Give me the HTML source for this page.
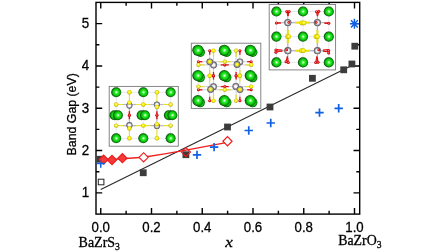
<!DOCTYPE html>
<html><head><meta charset="utf-8"><title>Band gap</title>
<style>
html,body{margin:0;padding:0;background:#fff;}
svg{display:block;}
.t{font-family:"Liberation Sans",sans-serif;font-size:14px;fill:#000;stroke:#000;stroke-width:0.28px;}
.s{font-family:"Liberation Serif",serif;font-size:15.6px;fill:#000;stroke:#000;stroke-width:0.3px;}
</style></head><body>
<svg width="448" height="252" viewBox="0 0 448 252">
<defs>
<radialGradient id="gG" cx="0.52" cy="0.5" r="0.5"><stop offset="0" stop-color="#ffffff"/><stop offset="0.14" stop-color="#b0ffb0"/><stop offset="0.32" stop-color="#2cf02c"/><stop offset="0.6" stop-color="#12d212"/><stop offset="0.82" stop-color="#089008"/><stop offset="1" stop-color="#044a04"/></radialGradient>
<radialGradient id="gY" cx="0.5" cy="0.45" r="0.55"><stop offset="0" stop-color="#ffff8a"/><stop offset="0.6" stop-color="#f2e800"/><stop offset="1" stop-color="#a89c00"/></radialGradient>
<radialGradient id="gR" cx="0.5" cy="0.45" r="0.55"><stop offset="0" stop-color="#ffa0a0"/><stop offset="0.5" stop-color="#f01818"/><stop offset="1" stop-color="#a00000"/></radialGradient>
<radialGradient id="gZ" cx="0.5" cy="0.5" r="0.5"><stop offset="0" stop-color="#ffffff"/><stop offset="0.4" stop-color="#f2f2f6"/><stop offset="0.65" stop-color="#a2a2ac"/><stop offset="0.88" stop-color="#66666e"/><stop offset="1" stop-color="#505058"/></radialGradient>
<filter id="soft" x="0" y="0" width="448" height="252" filterUnits="userSpaceOnUse"><feGaussianBlur stdDeviation="0.35"/></filter>
</defs>
<rect width="448" height="252" fill="#fff"/>

<g stroke="#000" stroke-width="1.4" fill="none" stroke-linecap="butt">
<rect x="96.0" y="2.4" width="263.7" height="211.7"/>
<path d="M100.75,214.1v-6.2M100.75,2.4v6.2"/>
<path d="M126.12,214.1v-3.4M126.12,2.4v3.4"/>
<path d="M151.50,214.1v-6.2M151.50,2.4v6.2"/>
<path d="M176.88,214.1v-3.4M176.88,2.4v3.4"/>
<path d="M202.25,214.1v-6.2M202.25,2.4v6.2"/>
<path d="M227.62,214.1v-3.4M227.62,2.4v3.4"/>
<path d="M253.00,214.1v-6.2M253.00,2.4v6.2"/>
<path d="M278.38,214.1v-3.4M278.38,2.4v3.4"/>
<path d="M303.75,214.1v-6.2M303.75,2.4v6.2"/>
<path d="M329.12,214.1v-3.4M329.12,2.4v3.4"/>
<path d="M354.50,214.1v-6.2M354.50,2.4v6.2"/>
<path d="M96.0,192.85h6.2M359.7,192.85h-6.2"/>
<path d="M96.0,171.70h3.4M359.7,171.70h-3.4"/>
<path d="M96.0,150.55h6.2M359.7,150.55h-6.2"/>
<path d="M96.0,129.40h3.4M359.7,129.40h-3.4"/>
<path d="M96.0,108.25h6.2M359.7,108.25h-6.2"/>
<path d="M96.0,87.10h3.4M359.7,87.10h-3.4"/>
<path d="M96.0,65.95h6.2M359.7,65.95h-6.2"/>
<path d="M96.0,44.80h3.4M359.7,44.80h-3.4"/>
<path d="M96.0,23.65h6.2M359.7,23.65h-6.2"/>
</g>
<text class="t" x="100.75" y="232.0" text-anchor="middle" textLength="18.4" lengthAdjust="spacingAndGlyphs">0.0</text>
<text class="t" x="151.50" y="232.0" text-anchor="middle" textLength="18.4" lengthAdjust="spacingAndGlyphs">0.2</text>
<text class="t" x="202.25" y="232.0" text-anchor="middle" textLength="18.4" lengthAdjust="spacingAndGlyphs">0.4</text>
<text class="t" x="253.00" y="232.0" text-anchor="middle" textLength="18.4" lengthAdjust="spacingAndGlyphs">0.6</text>
<text class="t" x="303.75" y="232.0" text-anchor="middle" textLength="18.4" lengthAdjust="spacingAndGlyphs">0.8</text>
<text class="t" x="354.50" y="232.0" text-anchor="middle" textLength="18.4" lengthAdjust="spacingAndGlyphs">1.0</text>
<text class="t" x="89.1" y="197.15" text-anchor="end" textLength="7.45" lengthAdjust="spacingAndGlyphs">1</text>
<text class="t" x="89.1" y="154.85" text-anchor="end" textLength="7.45" lengthAdjust="spacingAndGlyphs">2</text>
<text class="t" x="89.1" y="112.55" text-anchor="end" textLength="7.45" lengthAdjust="spacingAndGlyphs">3</text>
<text class="t" x="89.1" y="70.25" text-anchor="end" textLength="7.45" lengthAdjust="spacingAndGlyphs">4</text>
<text class="t" x="89.1" y="27.95" text-anchor="end" textLength="7.45" lengthAdjust="spacingAndGlyphs">5</text>
<text class="t" style="font-size:13.4px" transform="translate(76.2,155.4) rotate(-90)" textLength="82.2" lengthAdjust="spacingAndGlyphs">Band Gap (eV)</text>
<text class="s" x="78.6" y="246.9" textLength="41.3" lengthAdjust="spacingAndGlyphs">BaZrS<tspan style="font-size:10.8px" dy="3.5">3</tspan></text>
<text class="s" x="338.2" y="244.5" textLength="43.3" lengthAdjust="spacingAndGlyphs">BaZrO<tspan style="font-size:10.8px" dy="3.5">3</tspan></text>
<text class="s" x="229" y="246.8" text-anchor="middle" font-style="italic" style="font-size:15.4px" textLength="7.6" lengthAdjust="spacingAndGlyphs">x</text>
<path d="M100.75,189.4L351.9,65.6" stroke="#2a2a2a" stroke-width="1.15" fill="none"/>
<path d="M103.6,160 L143.6,157.2 Q165,154 186,150.1 L227.5,142.4" stroke="#f02020" stroke-width="1.4" fill="none"/>
<rect x="96.60" y="155.85" width="6.8" height="6.8" fill="#3c3c3c"/>
<rect x="139.85" y="169.35" width="6.8" height="6.8" fill="#3c3c3c"/>
<rect x="182.50" y="151.30" width="6.8" height="6.8" fill="#3c3c3c"/>
<rect x="224.10" y="123.60" width="6.8" height="6.8" fill="#3c3c3c"/>
<rect x="266.60" y="103.60" width="6.8" height="6.8" fill="#3c3c3c"/>
<rect x="309.00" y="74.90" width="6.8" height="6.8" fill="#3c3c3c"/>
<rect x="340.30" y="66.40" width="6.8" height="6.8" fill="#3c3c3c"/>
<rect x="348.50" y="60.60" width="6.8" height="6.8" fill="#3c3c3c"/>
<rect x="351.40" y="42.80" width="6.8" height="6.8" fill="#3c3c3c"/>
<rect x="98.30" y="179.20" width="5.6" height="5.6" fill="#fff" stroke="#222" stroke-width="1"/>
<path d="M192.80,154.90h8.4M197.00,150.70v8.4" stroke="#1060e6" stroke-width="1.7" fill="none"/>
<path d="M209.90,147.10h8.4M214.10,142.90v8.4" stroke="#1060e6" stroke-width="1.7" fill="none"/>
<path d="M244.55,130.50h8.4M248.75,126.30v8.4" stroke="#1060e6" stroke-width="1.7" fill="none"/>
<path d="M266.55,123.00h8.4M270.75,118.80v8.4" stroke="#1060e6" stroke-width="1.7" fill="none"/>
<path d="M315.30,112.60h8.4M319.50,108.40v8.4" stroke="#1060e6" stroke-width="1.7" fill="none"/>
<path d="M334.50,108.30h8.4M338.70,104.10v8.4" stroke="#1060e6" stroke-width="1.7" fill="none"/>
<path d="M349.9,23.8h9M354.4,18.8v10M351.0,20.2l6.8,7.2M351.0,27.400000000000002l6.8,-7.2" stroke="#1060e6" stroke-width="1.5" fill="none"/>
<path d="M99.00,159.60L103.60,155.00L108.20,159.60L103.60,164.20Z" fill="#f23a3a" stroke="#f01818" stroke-width="1.1"/>
<path d="M107.40,160.00L112.00,155.40L116.60,160.00L112.00,164.60Z" fill="#f23a3a" stroke="#f01818" stroke-width="1.1"/>
<path d="M117.80,158.20L122.40,153.60L127.00,158.20L122.40,162.80Z" fill="#f23a3a" stroke="#f01818" stroke-width="1.1"/>
<path d="M139.00,157.30L143.60,152.70L148.20,157.30L143.60,161.90Z" fill="#fff" stroke="#f01818" stroke-width="1.1"/>
<path d="M181.3,152.1L185.9,147.5L190.5,152.1L185.9,156.7Z" fill="none" stroke="#f01818" stroke-width="1.1"/>
<path d="M222.90,141.25L227.50,136.65L232.10,141.25L227.50,145.85Z" fill="#fff" stroke="#f01818" stroke-width="1.1"/>
<path d="M96.55,163.6h8.4M100.75,163.6v4.2" stroke="#1060e6" stroke-width="1.5" fill="none"/>
<path d="M100.75,163.6v-3.8" stroke="#1060e6" stroke-width="1.5" fill="none" opacity="0.35"/>
<g filter="url(#soft)">
<rect x="109.2" y="86.4" width="69.10" height="59.80" fill="#fff" stroke="#7a7a7a" stroke-width="0.9"/>
<path d="M116.2,92.3L170.6,92.3" stroke="#e2e2ee" stroke-width="0.8"/>
<path d="M116.2,138.3L170.6,138.3" stroke="#e2e2ee" stroke-width="0.8"/>
<path d="M116.2,92.3L116.2,138.3" stroke="#e2e2ee" stroke-width="0.8"/>
<path d="M143.3,92.3L143.3,138.3" stroke="#e2e2ee" stroke-width="0.8"/>
<path d="M170.6,92.3L170.6,138.3" stroke="#e2e2ee" stroke-width="0.8"/>
<path d="M116.2,104.5L170.6,104.5" stroke="#e8e030" stroke-width="1.15"/>
<path d="M122.9,104.5L135.9,104.5" stroke="#b8b8c8" stroke-width="1.15"/>
<path d="M150.4,104.5L163.4,104.5" stroke="#b8b8c8" stroke-width="1.15"/>
<path d="M116.2,125.6L170.6,125.6" stroke="#e8e030" stroke-width="1.15"/>
<path d="M122.9,125.6L135.9,125.6" stroke="#b8b8c8" stroke-width="1.15"/>
<path d="M150.4,125.6L163.4,125.6" stroke="#b8b8c8" stroke-width="1.15"/>
<path d="M129.4,92.3L129.4,103.5" stroke="#e8e030" stroke-width="1.15"/>
<path d="M129.4,126.6L129.4,138.3" stroke="#e8e030" stroke-width="1.15"/>
<path d="M129.4,104.5L129.4,125.6" stroke="#b8b8c8" stroke-width="1.2"/>
<path d="M129.4,111.2L129.4,119.2" stroke="#e81010" stroke-width="1.4"/>
<path d="M156.9,92.3L156.9,103.5" stroke="#e8e030" stroke-width="1.15"/>
<path d="M156.9,126.6L156.9,138.3" stroke="#e8e030" stroke-width="1.15"/>
<path d="M156.9,104.5L156.9,125.6" stroke="#b8b8c8" stroke-width="1.2"/>
<path d="M156.9,111.2L156.9,119.2" stroke="#e81010" stroke-width="1.4"/>
<circle cx="129.4" cy="92.3" r="2.2" fill="url(#gY)"/>
<circle cx="129.4" cy="138.3" r="2.2" fill="url(#gY)"/>
<circle cx="129.4" cy="115.2" r="1.6" fill="url(#gR)"/>
<circle cx="156.9" cy="92.3" r="2.2" fill="url(#gY)"/>
<circle cx="156.9" cy="138.3" r="2.2" fill="url(#gY)"/>
<circle cx="156.9" cy="115.2" r="1.6" fill="url(#gR)"/>
<circle cx="116.2" cy="104.5" r="2.2" fill="url(#gY)"/>
<circle cx="143.3" cy="104.5" r="2.2" fill="url(#gY)"/>
<circle cx="170.6" cy="104.5" r="2.2" fill="url(#gY)"/>
<circle cx="116.2" cy="125.6" r="2.2" fill="url(#gY)"/>
<circle cx="143.3" cy="125.6" r="2.2" fill="url(#gY)"/>
<circle cx="170.6" cy="125.6" r="2.2" fill="url(#gY)"/>
<circle cx="129.4" cy="105.6" r="3.1" fill="url(#gZ)"/>
<circle cx="129.4" cy="102.6" r="2.2" fill="url(#gY)"/>
<circle cx="156.9" cy="104.6" r="3.1" fill="url(#gZ)"/>
<circle cx="156.9" cy="107.0" r="2.2" fill="url(#gY)"/>
<circle cx="129.4" cy="125.2" r="3.1" fill="url(#gZ)"/>
<circle cx="129.4" cy="128.4" r="2.2" fill="url(#gY)"/>
<circle cx="156.9" cy="126.0" r="3.1" fill="url(#gZ)"/>
<circle cx="156.9" cy="124.2" r="2.2" fill="url(#gY)"/>
<circle cx="116.2" cy="92.3" r="5.0" fill="url(#gG)"/>
<circle cx="143.3" cy="92.3" r="5.0" fill="url(#gG)"/>
<circle cx="170.6" cy="92.3" r="5.0" fill="url(#gG)"/>
<circle cx="116.2" cy="138.3" r="5.0" fill="url(#gG)"/>
<circle cx="143.3" cy="138.3" r="5.0" fill="url(#gG)"/>
<circle cx="170.6" cy="138.3" r="5.0" fill="url(#gG)"/>
<circle cx="114.5" cy="115.2" r="5.0" fill="url(#gG)"/>
<circle cx="117.9" cy="115.2" r="5.0" fill="url(#gG)"/>
<circle cx="141.6" cy="115.2" r="5.0" fill="url(#gG)"/>
<circle cx="145.0" cy="115.2" r="5.0" fill="url(#gG)"/>
<circle cx="168.9" cy="115.2" r="5.0" fill="url(#gG)"/>
<circle cx="172.3" cy="115.2" r="5.0" fill="url(#gG)"/>
<rect x="191.3" y="43.2" width="69.50" height="65.20" fill="#fff" stroke="#7a7a7a" stroke-width="0.9"/>
<path d="M198.4,50.6L250.8,50.6" stroke="#e2e2ee" stroke-width="0.8"/>
<path d="M198.4,75.9L250.8,75.9" stroke="#e2e2ee" stroke-width="0.8"/>
<path d="M198.4,100.9L250.8,100.9" stroke="#e2e2ee" stroke-width="0.8"/>
<path d="M198.4,50.6L198.4,100.9" stroke="#e2e2ee" stroke-width="0.8"/>
<path d="M224.8,50.6L224.8,100.9" stroke="#e2e2ee" stroke-width="0.8"/>
<path d="M250.8,50.6L250.8,100.9" stroke="#e2e2ee" stroke-width="0.8"/>
<path d="M211.6,64.9L198.4,64.9" stroke="#cfcfda" stroke-width="1.0"/>
<path d="M211.6,61.7L198.4,61.7" stroke="#cfcfda" stroke-width="1.0"/>
<path d="M198.4,64.9L204.4,64.9" stroke="#e8e030" stroke-width="1.3"/>
<path d="M198.4,61.7L202.4,61.7" stroke="#e81010" stroke-width="1.3"/>
<path d="M211.6,61.7L224.8,61.7" stroke="#cfcfda" stroke-width="1.0"/>
<path d="M211.6,64.9L224.8,64.9" stroke="#cfcfda" stroke-width="1.0"/>
<path d="M224.8,61.7L218.8,61.7" stroke="#e8e030" stroke-width="1.3"/>
<path d="M224.8,64.9L220.8,64.9" stroke="#e81010" stroke-width="1.3"/>
<path d="M213.5,63.3L213.5,50.7" stroke="#cfcfda" stroke-width="1.0"/>
<path d="M209.7,63.3L209.7,50.7" stroke="#cfcfda" stroke-width="1.0"/>
<path d="M213.5,50.7L213.5,56.7" stroke="#e8e030" stroke-width="1.3"/>
<path d="M209.7,50.7L209.7,54.7" stroke="#e81010" stroke-width="1.3"/>
<path d="M209.7,63.3L209.7,75.9" stroke="#cfcfda" stroke-width="1.0"/>
<path d="M213.5,63.3L213.5,75.9" stroke="#cfcfda" stroke-width="1.0"/>
<path d="M209.7,75.9L209.7,69.9" stroke="#e8e030" stroke-width="1.3"/>
<path d="M213.5,75.9L213.5,71.9" stroke="#e81010" stroke-width="1.3"/>
<path d="M211.6,86.6L198.4,86.6" stroke="#cfcfda" stroke-width="1.0"/>
<path d="M211.6,89.8L198.4,89.8" stroke="#cfcfda" stroke-width="1.0"/>
<path d="M198.4,86.6L204.4,86.6" stroke="#e8e030" stroke-width="1.3"/>
<path d="M198.4,89.8L202.4,89.8" stroke="#e81010" stroke-width="1.3"/>
<path d="M211.6,89.8L224.8,89.8" stroke="#cfcfda" stroke-width="1.0"/>
<path d="M211.6,86.6L224.8,86.6" stroke="#cfcfda" stroke-width="1.0"/>
<path d="M224.8,89.8L218.8,89.8" stroke="#e8e030" stroke-width="1.3"/>
<path d="M224.8,86.6L220.8,86.6" stroke="#e81010" stroke-width="1.3"/>
<path d="M209.7,88.2L209.7,75.6" stroke="#cfcfda" stroke-width="1.0"/>
<path d="M213.5,88.2L213.5,75.6" stroke="#cfcfda" stroke-width="1.0"/>
<path d="M209.7,75.6L209.7,81.6" stroke="#e8e030" stroke-width="1.3"/>
<path d="M213.5,75.6L213.5,79.6" stroke="#e81010" stroke-width="1.3"/>
<path d="M213.5,88.2L213.5,100.8" stroke="#cfcfda" stroke-width="1.0"/>
<path d="M209.7,88.2L209.7,100.8" stroke="#cfcfda" stroke-width="1.0"/>
<path d="M213.5,100.8L213.5,94.8" stroke="#e8e030" stroke-width="1.3"/>
<path d="M209.7,100.8L209.7,96.8" stroke="#e81010" stroke-width="1.3"/>
<path d="M238.0,61.7L224.8,61.7" stroke="#cfcfda" stroke-width="1.0"/>
<path d="M238.0,64.9L224.8,64.9" stroke="#cfcfda" stroke-width="1.0"/>
<path d="M224.8,61.7L230.8,61.7" stroke="#e8e030" stroke-width="1.3"/>
<path d="M224.8,64.9L228.8,64.9" stroke="#e81010" stroke-width="1.3"/>
<path d="M238.0,64.9L251.2,64.9" stroke="#cfcfda" stroke-width="1.0"/>
<path d="M238.0,61.7L251.2,61.7" stroke="#cfcfda" stroke-width="1.0"/>
<path d="M251.2,64.9L245.2,64.9" stroke="#e8e030" stroke-width="1.3"/>
<path d="M251.2,61.7L247.2,61.7" stroke="#e81010" stroke-width="1.3"/>
<path d="M236.1,63.3L236.1,50.7" stroke="#cfcfda" stroke-width="1.0"/>
<path d="M239.9,63.3L239.9,50.7" stroke="#cfcfda" stroke-width="1.0"/>
<path d="M236.1,50.7L236.1,56.7" stroke="#e8e030" stroke-width="1.3"/>
<path d="M239.9,50.7L239.9,54.7" stroke="#e81010" stroke-width="1.3"/>
<path d="M239.9,63.3L239.9,75.9" stroke="#cfcfda" stroke-width="1.0"/>
<path d="M236.1,63.3L236.1,75.9" stroke="#cfcfda" stroke-width="1.0"/>
<path d="M239.9,75.9L239.9,69.9" stroke="#e8e030" stroke-width="1.3"/>
<path d="M236.1,75.9L236.1,71.9" stroke="#e81010" stroke-width="1.3"/>
<path d="M238.0,89.8L224.8,89.8" stroke="#cfcfda" stroke-width="1.0"/>
<path d="M238.0,86.6L224.8,86.6" stroke="#cfcfda" stroke-width="1.0"/>
<path d="M224.8,89.8L230.8,89.8" stroke="#e8e030" stroke-width="1.3"/>
<path d="M224.8,86.6L228.8,86.6" stroke="#e81010" stroke-width="1.3"/>
<path d="M238.0,86.6L251.2,86.6" stroke="#cfcfda" stroke-width="1.0"/>
<path d="M238.0,89.8L251.2,89.8" stroke="#cfcfda" stroke-width="1.0"/>
<path d="M251.2,86.6L245.2,86.6" stroke="#e8e030" stroke-width="1.3"/>
<path d="M251.2,89.8L247.2,89.8" stroke="#e81010" stroke-width="1.3"/>
<path d="M239.9,88.2L239.9,75.6" stroke="#cfcfda" stroke-width="1.0"/>
<path d="M236.1,88.2L236.1,75.6" stroke="#cfcfda" stroke-width="1.0"/>
<path d="M239.9,75.6L239.9,81.6" stroke="#e8e030" stroke-width="1.3"/>
<path d="M236.1,75.6L236.1,79.6" stroke="#e81010" stroke-width="1.3"/>
<path d="M236.1,88.2L236.1,100.8" stroke="#cfcfda" stroke-width="1.0"/>
<path d="M239.9,88.2L239.9,100.8" stroke="#cfcfda" stroke-width="1.0"/>
<path d="M236.1,100.8L236.1,94.8" stroke="#e8e030" stroke-width="1.3"/>
<path d="M239.9,100.8L239.9,96.8" stroke="#e81010" stroke-width="1.3"/>
<circle cx="198.4" cy="61.7" r="1.5" fill="url(#gR)"/>
<circle cx="198.4" cy="89.8" r="1.5" fill="url(#gR)"/>
<circle cx="209.7" cy="50.7" r="1.5" fill="url(#gR)"/>
<circle cx="209.7" cy="100.8" r="1.5" fill="url(#gR)"/>
<circle cx="213.5" cy="75.6" r="1.5" fill="url(#gR)"/>
<circle cx="213.5" cy="75.9" r="1.5" fill="url(#gR)"/>
<circle cx="224.8" cy="64.9" r="1.5" fill="url(#gR)"/>
<circle cx="224.8" cy="86.6" r="1.5" fill="url(#gR)"/>
<circle cx="236.1" cy="75.6" r="1.5" fill="url(#gR)"/>
<circle cx="236.1" cy="75.9" r="1.5" fill="url(#gR)"/>
<circle cx="239.9" cy="50.7" r="1.5" fill="url(#gR)"/>
<circle cx="239.9" cy="100.8" r="1.5" fill="url(#gR)"/>
<circle cx="251.2" cy="61.7" r="1.5" fill="url(#gR)"/>
<circle cx="251.2" cy="89.8" r="1.5" fill="url(#gR)"/>
<circle cx="198.4" cy="64.9" r="2.1" fill="url(#gY)"/>
<circle cx="198.4" cy="86.6" r="2.1" fill="url(#gY)"/>
<circle cx="209.7" cy="75.6" r="2.1" fill="url(#gY)"/>
<circle cx="209.7" cy="75.9" r="2.1" fill="url(#gY)"/>
<circle cx="213.5" cy="50.7" r="2.1" fill="url(#gY)"/>
<circle cx="213.5" cy="100.8" r="2.1" fill="url(#gY)"/>
<circle cx="224.8" cy="61.7" r="2.1" fill="url(#gY)"/>
<circle cx="224.8" cy="89.8" r="2.1" fill="url(#gY)"/>
<circle cx="236.1" cy="50.7" r="2.1" fill="url(#gY)"/>
<circle cx="236.1" cy="100.8" r="2.1" fill="url(#gY)"/>
<circle cx="239.9" cy="75.6" r="2.1" fill="url(#gY)"/>
<circle cx="239.9" cy="75.9" r="2.1" fill="url(#gY)"/>
<circle cx="251.2" cy="64.9" r="2.1" fill="url(#gY)"/>
<circle cx="251.2" cy="86.6" r="2.1" fill="url(#gY)"/>
<circle cx="213.6" cy="65.0" r="3.4" fill="url(#gZ)"/>
<circle cx="209.8" cy="61.8" r="3.4" fill="url(#gZ)"/>
<circle cx="209.8" cy="61.8" r="2.1" fill="url(#gY)"/>
<circle cx="213.5" cy="86.7" r="3.4" fill="url(#gZ)"/>
<circle cx="210.6" cy="89.4" r="3.4" fill="url(#gZ)"/>
<circle cx="210.6" cy="89.4" r="2.1" fill="url(#gY)"/>
<circle cx="239.9" cy="61.8" r="3.4" fill="url(#gZ)"/>
<circle cx="237.0" cy="64.5" r="3.4" fill="url(#gZ)"/>
<circle cx="237.0" cy="64.5" r="2.1" fill="url(#gY)"/>
<circle cx="235.8" cy="86.4" r="3.4" fill="url(#gZ)"/>
<circle cx="240.0" cy="89.6" r="3.4" fill="url(#gZ)"/>
<circle cx="240.0" cy="89.6" r="2.1" fill="url(#gY)"/>
<circle cx="200.3" cy="52.3" r="4.7" fill="url(#gG)"/>
<circle cx="197.9" cy="50.3" r="5.6" fill="url(#gG)"/>
<circle cx="226.7" cy="52.3" r="4.7" fill="url(#gG)"/>
<circle cx="224.3" cy="50.3" r="5.6" fill="url(#gG)"/>
<circle cx="252.7" cy="52.3" r="4.7" fill="url(#gG)"/>
<circle cx="250.3" cy="50.3" r="5.6" fill="url(#gG)"/>
<circle cx="200.3" cy="77.6" r="4.7" fill="url(#gG)"/>
<circle cx="197.9" cy="75.6" r="5.6" fill="url(#gG)"/>
<circle cx="226.7" cy="77.6" r="4.7" fill="url(#gG)"/>
<circle cx="224.3" cy="75.6" r="5.6" fill="url(#gG)"/>
<circle cx="252.7" cy="77.6" r="4.7" fill="url(#gG)"/>
<circle cx="250.3" cy="75.6" r="5.6" fill="url(#gG)"/>
<circle cx="200.3" cy="102.6" r="4.7" fill="url(#gG)"/>
<circle cx="197.9" cy="100.6" r="5.6" fill="url(#gG)"/>
<circle cx="226.7" cy="102.6" r="4.7" fill="url(#gG)"/>
<circle cx="224.3" cy="100.6" r="5.6" fill="url(#gG)"/>
<circle cx="252.7" cy="102.6" r="4.7" fill="url(#gG)"/>
<circle cx="250.3" cy="100.6" r="5.6" fill="url(#gG)"/>
<rect x="269.2" y="4.5" width="66.40" height="65.40" fill="#fff" stroke="#7a7a7a" stroke-width="0.9"/>
<path d="M276.4,11.5L328.8,11.5" stroke="#e2e2ee" stroke-width="0.8"/>
<path d="M276.4,36.6L328.8,36.6" stroke="#e2e2ee" stroke-width="0.8"/>
<path d="M276.4,62.4L328.8,62.4" stroke="#e2e2ee" stroke-width="0.8"/>
<path d="M276.4,11.5L276.4,62.4" stroke="#e2e2ee" stroke-width="0.8"/>
<path d="M303.0,11.5L303.0,62.4" stroke="#e2e2ee" stroke-width="0.8"/>
<path d="M328.8,11.5L328.8,62.4" stroke="#e2e2ee" stroke-width="0.8"/>
<path d="M287.8,22.6L287.8,50.7" stroke="#b8b8c8" stroke-width="1.4"/>
<path d="M287.8,30.1L287.8,43.2" stroke="#ece400" stroke-width="2.0"/>
<path d="M317.4,22.6L317.4,50.7" stroke="#b8b8c8" stroke-width="1.4"/>
<path d="M317.4,30.1L317.4,43.2" stroke="#ece400" stroke-width="2.0"/>
<path d="M287.8,22.6L317.4,22.6" stroke="#b8b8c8" stroke-width="1.4"/>
<path d="M295.3,22.6L309.9,22.6" stroke="#ece400" stroke-width="2.0"/>
<path d="M287.8,50.7L317.4,50.7" stroke="#b8b8c8" stroke-width="1.4"/>
<path d="M295.3,50.7L309.9,50.7" stroke="#ece400" stroke-width="2.0"/>
<path d="M287.8,22.6L287.8,11.5" stroke="#b8b8c8" stroke-width="1.2"/>
<path d="M286.8,11.4L288.0,16.0" stroke="#e81010" stroke-width="1.2"/>
<path d="M289.1,11.4L288.0,16.0" stroke="#e81010" stroke-width="1.2"/>
<path d="M317.4,22.6L317.4,11.5" stroke="#b8b8c8" stroke-width="1.2"/>
<path d="M316.5,11.8L317.5,16.2" stroke="#e81010" stroke-width="1.2"/>
<path d="M318.8,11.3L317.5,16.2" stroke="#e81010" stroke-width="1.2"/>
<path d="M287.8,50.7L287.8,62.4" stroke="#b8b8c8" stroke-width="1.2"/>
<path d="M286.0,61.8L287.4,56.5" stroke="#e81010" stroke-width="1.2"/>
<path d="M288.3,62.6L287.4,56.5" stroke="#e81010" stroke-width="1.2"/>
<path d="M317.4,50.7L317.4,62.4" stroke="#b8b8c8" stroke-width="1.2"/>
<path d="M315.7,62.6L317.0,56.5" stroke="#e81010" stroke-width="1.2"/>
<path d="M318.0,62.2L317.0,56.5" stroke="#e81010" stroke-width="1.2"/>
<path d="M287.8,22.6L276.4,22.6" stroke="#b8b8c8" stroke-width="1.2"/>
<path d="M276.4,23.0L280.9,23.0" stroke="#e81010" stroke-width="1.5"/>
<path d="M317.4,22.6L328.8,22.6" stroke="#b8b8c8" stroke-width="1.2"/>
<path d="M328.8,23.2L324.3,23.2" stroke="#e81010" stroke-width="1.5"/>
<path d="M287.8,50.7L276.4,50.7" stroke="#b8b8c8" stroke-width="1.2"/>
<path d="M276.4,49.6L282.4,50.1" stroke="#e81010" stroke-width="1.1"/>
<path d="M276.4,51.8L282.4,51.3" stroke="#e81010" stroke-width="1.1"/>
<path d="M317.4,50.7L328.8,50.7" stroke="#b8b8c8" stroke-width="1.2"/>
<path d="M328.8,49.5L322.8,50.1" stroke="#e81010" stroke-width="1.1"/>
<path d="M328.8,51.9L322.8,51.3" stroke="#e81010" stroke-width="1.1"/>
<circle cx="286.8" cy="11.4" r="1.5" fill="url(#gR)"/>
<circle cx="289.1" cy="11.4" r="1.5" fill="url(#gR)"/>
<circle cx="316.5" cy="11.8" r="1.5" fill="url(#gR)"/>
<circle cx="318.8" cy="11.3" r="1.5" fill="url(#gR)"/>
<circle cx="276.4" cy="23.0" r="1.5" fill="url(#gR)"/>
<circle cx="328.8" cy="23.3" r="1.5" fill="url(#gR)"/>
<circle cx="275.9" cy="50.0" r="1.5" fill="url(#gR)"/>
<circle cx="275.9" cy="52.2" r="1.5" fill="url(#gR)"/>
<circle cx="328.7" cy="50.6" r="1.5" fill="url(#gR)"/>
<circle cx="328.7" cy="52.9" r="1.5" fill="url(#gR)"/>
<circle cx="286.0" cy="61.8" r="1.5" fill="url(#gR)"/>
<circle cx="288.3" cy="62.6" r="1.5" fill="url(#gR)"/>
<circle cx="315.7" cy="62.6" r="1.5" fill="url(#gR)"/>
<circle cx="318.0" cy="62.2" r="1.5" fill="url(#gR)"/>
<circle cx="301.9" cy="23.0" r="2.4" fill="url(#gY)"/>
<circle cx="303.9" cy="23.0" r="2.4" fill="url(#gY)"/>
<circle cx="287.4" cy="36.6" r="2.4" fill="url(#gY)"/>
<circle cx="288.8" cy="36.6" r="2.4" fill="url(#gY)"/>
<circle cx="316.0" cy="36.7" r="2.4" fill="url(#gY)"/>
<circle cx="317.4" cy="36.7" r="2.4" fill="url(#gY)"/>
<circle cx="301.6" cy="50.7" r="2.4" fill="url(#gY)"/>
<circle cx="303.2" cy="50.7" r="2.4" fill="url(#gY)"/>
<circle cx="287.8" cy="22.6" r="3.6" fill="url(#gZ)"/>
<circle cx="288.7" cy="22.4" r="1.3" fill="url(#gR)"/>
<circle cx="317.4" cy="22.6" r="3.6" fill="url(#gZ)"/>
<circle cx="316.2" cy="22.4" r="1.3" fill="url(#gR)"/>
<circle cx="287.8" cy="50.7" r="3.6" fill="url(#gZ)"/>
<circle cx="286.8" cy="49.9" r="1.3" fill="url(#gR)"/>
<circle cx="317.4" cy="50.7" r="3.6" fill="url(#gZ)"/>
<circle cx="318.7" cy="49.9" r="1.3" fill="url(#gR)"/>
<circle cx="276.4" cy="11.5" r="5.1" fill="url(#gG)"/>
<circle cx="303.0" cy="11.5" r="5.1" fill="url(#gG)"/>
<circle cx="328.8" cy="11.5" r="5.1" fill="url(#gG)"/>
<circle cx="276.4" cy="36.6" r="5.1" fill="url(#gG)"/>
<circle cx="303.0" cy="36.6" r="5.1" fill="url(#gG)"/>
<circle cx="328.8" cy="36.6" r="5.1" fill="url(#gG)"/>
<circle cx="276.4" cy="62.4" r="5.1" fill="url(#gG)"/>
<circle cx="303.0" cy="62.4" r="5.1" fill="url(#gG)"/>
<circle cx="328.8" cy="62.4" r="5.1" fill="url(#gG)"/>
</g>
</svg></body></html>
